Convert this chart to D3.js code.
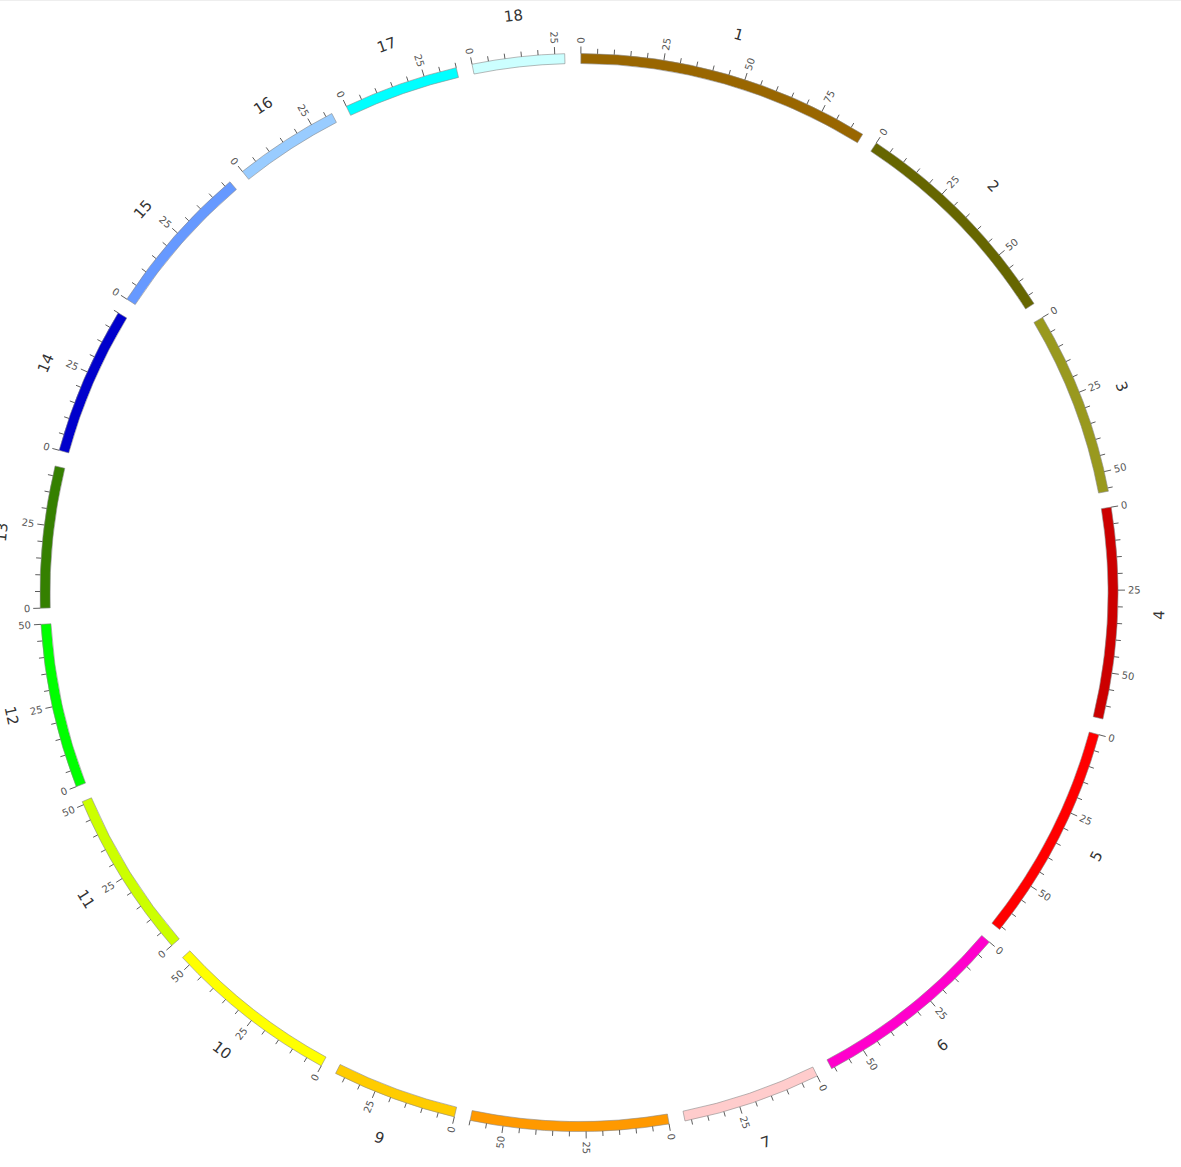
<!DOCTYPE html>
<html>
<head>
<meta charset="utf-8">
<script src="https://cdn.jsdelivr.net/npm/d3@7"></script>
<style>
  html, body { margin: 0; padding: 0; background: #fff; overflow: hidden; }
  svg { display: block; }
</style>
</head>
<body>
<script>
// ---- data ----
const chromosomes = ["1","2","3","4","5","6","7","8","9","10","11","12","13","14","15","16","17","18"];
const lengths = [89, 68, 56, 64, 66, 61, 42, 60, 38, 53, 51, 50, 43, 45, 47, 32, 35, 28];
const colors = ["#996600","#666600","#99991E","#CC0000","#FF0000","#FF00CC","#FFCCCC","#FF9900","#FFCC00",
                "#FFFF00","#CCFF00","#00FF00","#358000","#0000CC","#6699FF","#99CCFF","#00FFFF","#CCFFFF"];
const tickStep = 5;
const labelStep = 25;

// ---- layout ----
const W = 1181, H = 1167;
const cx = 579, cy = 592.5;
const innerR = 529, outerR = 539;
const gap = 0.03;        // radians between blocks
const offset = 0.0035;   // small rotation of the whole ring
const total = d3.sum(lengths);
const angleScale = d3.scaleLinear().domain([0, total]).range([0, 2 * Math.PI - gap * chromosomes.length]);

let acc = 0;
const blocks = chromosomes.map((c, i) => {
  const start = offset + angleScale(acc) + gap * i;
  const b = { id: c, len: lengths[i], color: colors[i], start, end: start + angleScale(lengths[i]) };
  acc += lengths[i];
  return b;
});

const svg = d3.select("body").append("svg").attr("width", W).attr("height", H);
svg.append("rect").attr("x", 0).attr("y", 0).attr("width", W).attr("height", 1).attr("fill", "#eeeeee");

const g = svg.append("g").attr("transform", `translate(${cx},${cy})`);
const arc = d3.arc().innerRadius(innerR).outerRadius(outerR);

const deg = a => a * 180 / Math.PI;

const blk = g.selectAll("g.block").data(blocks).join("g").attr("class", "block");

blk.append("path")
  .attr("d", d => arc({ startAngle: d.start, endAngle: d.end }))
  .attr("fill", d => d.color)
  .attr("stroke", "#8a8a8a")
  .attr("stroke-width", 0.6);

// ticks
blk.each(function(d) {
  const sel = d3.select(this);
  const local = d3.scaleLinear().domain([0, d.len]).range([d.start, d.end]);
  const ticks = d3.range(0, d.len + 0.001, tickStep);
  ticks.forEach(t => {
    const a = local(t);
    const major = t % labelStep === 0;
    const r2 = outerR + (major ? 7 : 5);
    sel.append("line")
      .attr("x1", outerR * Math.sin(a)).attr("y1", -outerR * Math.cos(a))
      .attr("x2", r2 * Math.sin(a)).attr("y2", -r2 * Math.cos(a))
      .attr("stroke", "#333").attr("stroke-width", 0.8);
    if (major) {
      const ad = deg(a);
      const flip = ad > 180.5;
      const rl = outerR + 10;
      const x = rl * Math.sin(a), y = -rl * Math.cos(a);
      sel.append("text")
        .attr("transform", `translate(${x},${y}) rotate(${flip ? ad - 270 : ad - 90})`)
        .attr("text-anchor", flip ? "end" : "start")
        .attr("dy", "0.35em")
        .attr("font-family", "DejaVu Sans, sans-serif")
        .attr("font-size", 10)
        .attr("fill", "#555")
        .text(t);
    }
  });
});

// chromosome labels
blk.append("text")
  .attr("transform", d => {
    const a = (d.start + d.end) / 2, ad = deg(a), r = 580.5;
    const flip = ad > 90 && ad < 270;
    return `translate(${r * Math.sin(a)},${-r * Math.cos(a)}) rotate(${flip ? ad - 180 : ad})`;
  })
  .attr("text-anchor", "middle")
  .attr("dy", "0.35em")
  .attr("font-family", "DejaVu Sans, sans-serif")
  .attr("font-size", 15)
  .attr("fill", "#333")
  .text(d => d.id);
</script>
</body>
</html>
